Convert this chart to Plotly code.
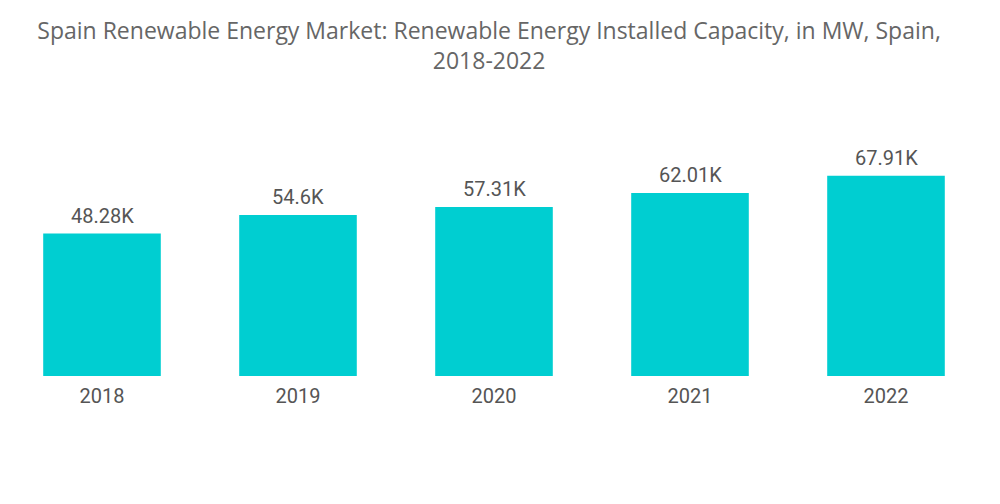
import plotly.graph_objects as go

years = ["2018", "2019", "2020", "2021", "2022"]
capacity_mw = [48280, 54600, 57310, 62010, 67910]
labels = ["48.28K", "54.6K", "57.31K", "62.01K", "67.91K"]

fig = go.Figure(go.Bar(
    x=years, y=capacity_mw,
    marker=dict(color="#00CED1", line=dict(width=0)),
    hoverinfo="skip",
))
for i, (v, lab) in enumerate(zip(capacity_mw, labels)):
    fig.add_annotation(x=i, y=v, text=lab, showarrow=False,
                       xanchor="center", yanchor="bottom", yshift=4,
                       font=dict(family="Roboto", size=20, color="#555555"))
fig.update_layout(
    width=1000, height=504,
    margin=dict(l=4, r=16, t=140, b=128),
    paper_bgcolor="white", plot_bgcolor="white",
    bargap=0.4,
    title=dict(
        text="Spain Renewable Energy Market: Renewable Energy Installed Capacity, in MW, Spain,<br>2018-2022",
        x=0.495, xref="paper", xanchor="center", y=0.923, yref="container", yanchor="top",
        font=dict(family="Open Sans", size=23, color="#666666"),
    ),
    xaxis=dict(type="category", showgrid=False, showline=False, zeroline=False, ticks="",
               ticklabelstandoff=6,
               tickfont=dict(family="Roboto", size=20, color="#555555")),
    yaxis=dict(visible=False, range=[0, 80000]),
    showlegend=False,
)
fig.write_html("out.html", config={"displayModeBar": False},
               post_script="document.body.style.margin='0';")
